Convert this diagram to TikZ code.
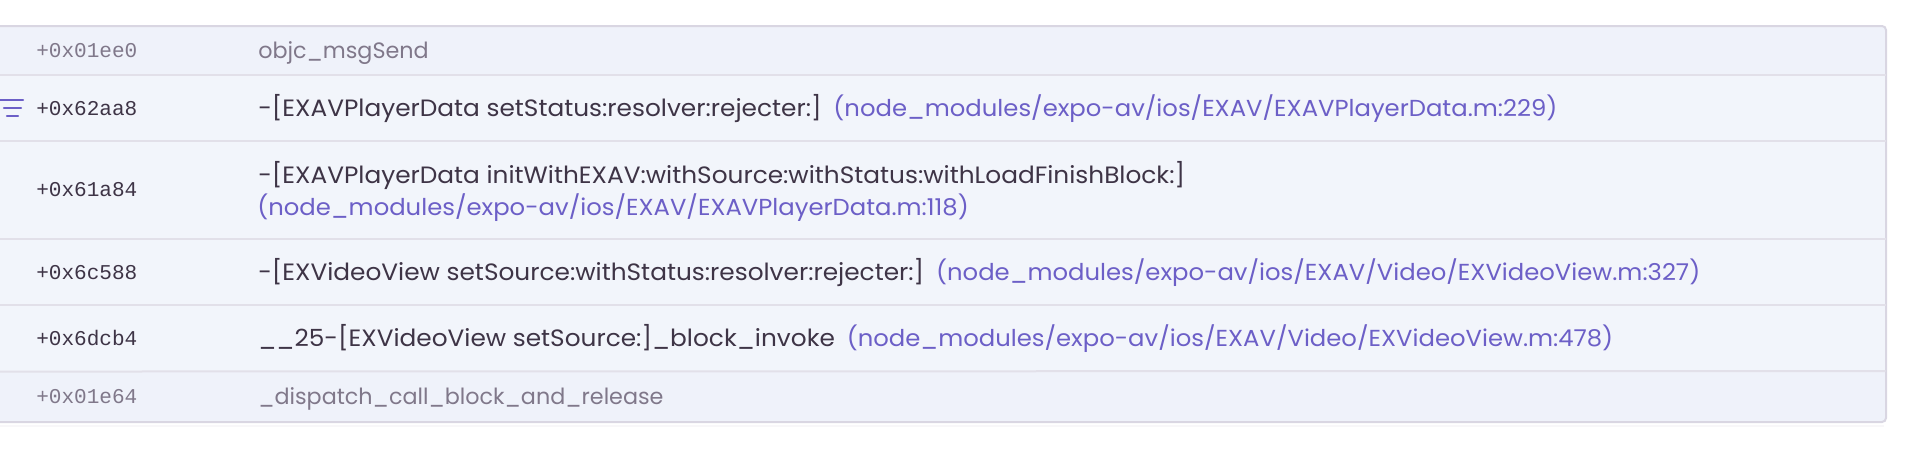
\documentclass[tikz,border=0pt]{standalone}
\usepackage{fontspec}
\setmainfont{Poppins}
\setmonofont{Liberation Mono}
\newfontfamily\symfont[FakeStretch=1.05]{Poppins}
\usepackage{xcolor}
\usepackage{tikz}
\usetikzlibrary{calc,positioning}
\definecolor{panelfill}{HTML}{EFF2FA}
\definecolor{rowfill}{HTML}{F2F5FB}
\definecolor{panelline}{HTML}{D9D6E2}
\definecolor{rowline}{HTML}{E2E0E9}
\definecolor{textdark}{HTML}{3E3446}
\definecolor{textdim}{HTML}{80788A}
\definecolor{textlink}{HTML}{6C5FC7}
\definecolor{panelshade}{HTML}{F8F7F9}
\tikzset{
  panel/.style={draw=panelline, line width=1.5pt, fill=panelfill, rounded corners=3pt, 
  minimum width=1440pt, minimum height=297pt, inner sep=0pt, anchor=north east},
  row/.style={fill=rowfill, minimum width=1430pt, inner sep=0pt, anchor=north east},
  sep/.style={draw=rowline, line width=1.5pt},
  addr/.style={anchor=base west, inner sep=0pt, font=\ttfamily\fontsize{15.8pt}{18pt}\selectfont, text=textdark},
  sym/.style={anchor=base west, inner sep=0pt, font=\symfont\fontsize{17.72pt}{20pt}\selectfont, text=textdark},
  dimsym/.style={anchor=base west, inner sep=0pt, font=\fontsize{16.7pt}{20pt}\selectfont, text=textdim},
  link/.style={sym, font=\symfont\fontsize{17.36pt}{20pt}\selectfont, text=textlink},
  icon/.style={draw=textlink, line width=1.7pt, line cap=round}
}
\begin{document}
\begin{tikzpicture}[x=0.75pt,y=-0.75pt]
    \useasboundingbox (0,0) rectangle (1908,462);
    \clip (0,0) rectangle (1908,462);
    \node (P) [panel] at (1887,25) {};
    \draw [draw=panelshade,line width=2pt] ($(P.south west)+(0,3)$) -- ($(P.south east)+(-3,3)$);
    % rows, dim ones are the panel itself
    \node (rowB) [row,minimum height=49.5pt] at (1885.5,75) {};
    \node (rowC) [row,minimum height=73.5pt] at (1885.5,141) {};
    \node (rowD) [row,minimum height=49.5pt] at (1885.5,239) {};
    \node (rowE) [row,minimum height=49.5pt] at (1885.5,305) {};
    \coordinate (rowF) at (1885.5,371);
    \draw [sep] (rowB.north west) -- (rowB.north east);
    \draw [sep] (rowC.north west) -- (rowC.north east);
    \draw [sep] (rowD.north west) -- (rowD.north east);
    \draw [sep] (rowE.north west) -- (rowE.north east);
    \draw [sep] (rowE.south west) -- (rowF);
    \node (addrA) [addr,text=textdim] at (36,57) {+0x01ee0};
    \node (symA) [dimsym] at (258,58) {objc\_msgSend};
    \node (addrB) [addr] at (36,115) {+0x62aa8};
    \node (symB) [sym] at (258,116) {-[EXAVPlayerData setStatus:resolver:rejecter:]};
    \node (linkB) [link,base right=8.5pt of symB] {(node\_modules/expo-av/ios/EXAV/EXAVPlayerData.m:229)};
    \node (addrC) [addr] at (36,196) {+0x61a84};
    \node (symC) [sym] at (258,183) {-[EXAVPlayerData initWithEXAV:withSource:withStatus:withLoadFinishBlock:]};
    \node (linkC) [link] at (257,215) {(node\_modules/expo-av/ios/EXAV/EXAVPlayerData.m:118)};
    \node (addrD) [addr] at (36,279) {+0x6c588};
    \node (symD) [sym] at (258,280) {-[EXVideoView setSource:withStatus:resolver:rejecter:]};
    \node (linkD) [link,base right=8.5pt of symD] {(node\_modules/expo-av/ios/EXAV/Video/EXVideoView.m:327)};
    \node (addrE) [addr] at (36,345) {+0x6dcb4};
    \node (symE) [sym] at (258,346) {\_\_25-[EXVideoView setSource:]\_block\_invoke};
    \node (linkE) [link,base right=8.5pt of symE] {(node\_modules/expo-av/ios/EXAV/Video/EXVideoView.m:478)};
    \node (addrF) [addr,text=textdim] at (36,403) {+0x01e64};
    \node (symF) [dimsym] at (258,404) {\_dispatch\_call\_block\_and\_release};
    % filter mark left of the address
    \draw [icon] (0,100) -- (23,100);
    \draw [icon] (4,108) -- (21,108);
    \draw [icon] (7,116) -- (18,116);
\end{tikzpicture}
\end{document}
